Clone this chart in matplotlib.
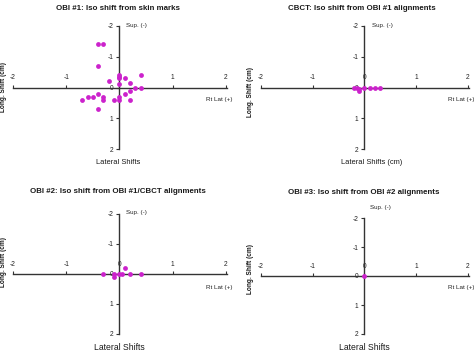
import matplotlib
matplotlib.use("Agg")
import matplotlib.pyplot as plt

W, H = 474, 351
FONT = ['Liberation Sans Narrow', 'Liberation Sans', 'DejaVu Sans']
FONT_R = ['Liberation Sans', 'DejaVu Sans']
plt.rcParams['font.family'] = FONT_R

MAG = '#CC22CC'
AX_COL = '#333333'

titles = ["OBI #1: Iso shift from skin marks",
          "CBCT: Iso shift from OBI #1 alignments",
          "OBI #2: Iso shift from OBI #1/CBCT alignments",
          "OBI #3: Iso shift from OBI #2 alignments"]
xlabels = ["Lateral Shifts", "Lateral Shifts (cm)", "Lateral Shifts", "Lateral Shifts"]
ylabel = "Long. Shift (cm)"
tick_vals = [-2, -1, 0, 1, 2]
tick_labels = ["-2", "-1", "0", "1", "2"]

# panel 1: OBI #1 shifts from skin marks
lat1 = [-0.4, -0.3, -0.4, 0.0, 0.0, 0.0, 0.1, 0.2, -0.2, 0.4, 0.0, 0.3, 0.4,
        0.2, 0.1, -0.4, -0.6, -0.5, -0.3, -0.7, -0.3, -0.1, 0.0, 0.0, 0.2, -0.4]
lng1 = [-1.4, -1.4, -0.7, -0.4, -0.35, -0.3, -0.3, -0.15, -0.2, -0.4, -0.1, 0.0, 0.0,
        0.1, 0.2, 0.2, 0.3, 0.3, 0.3, 0.4, 0.4, 0.4, 0.3, 0.4, 0.4, 0.7]
# panel 2: CBCT
lat2 = [-0.2, -0.15, -0.1, -0.1, 0.0, 0.1, 0.2, 0.3]
lng2 = [0.0, 0.0, 0.05, 0.1, 0.0, 0.0, 0.0, 0.0]
# panel 3: OBI #2
lat3 = [-0.3, -0.1, -0.1, 0.0, 0.05, 0.1, 0.2, 0.4]
lng3 = [0.0, 0.0, 0.1, 0.0, 0.0, -0.2, 0.0, 0.0]
# panel 4: OBI #3
lat4 = [0.0]
lng4 = [0.0]

data = [(lat1, lng1), (lat2, lng2), (lat3, lng3), (lat4, lng4)]

# axes boxes in pixels: (x_left(-2), x_right(2), y_top(-2), y_bottom(2))
boxes = [(13, 227, 26, 149), (261, 469, 26, 149),
         (13, 227, 214, 334), (261, 469, 218, 334)]
title_pos = [(118, 5), (362, 5), (118, 188), (364, 189)]
xlabel_pos = [(118, 163), (372, 163), (119, 347), (364, 347)]
xlabel_size = [5.4, 5.4, 6.2, 6.2]
ylabel_pos = [(4, 87), (250, 92), (4, 262), (250, 269)]
sup_pos = [(126, 25), (372, 25), (126, 213), (370, 208)]
rt_pos = [(232, 100), (474, 100), (232, 287), (474, 287)]

fig = plt.figure(figsize=(W / 100, H / 100), dpi=100)

def fx(px):
    return px / W

def fy(py):
    return 1 - py / H

for i, (xs, ys) in enumerate(data):
    l, r, t, b = boxes[i]
    ax = fig.add_axes([fx(l), fy(b), (r - l) / W, (b - t) / H])
    ax.set_xlim(-2, 2.02)
    ax.set_ylim(2, -2)
    ax.set_facecolor('none')
    for s in ['right', 'bottom']:
        ax.spines[s].set_visible(False)
    ax.spines['left'].set_position(('data', 0))
    ax.spines['top'].set_position(('data', 0))
    for s in ['left', 'top']:
        ax.spines[s].set_color(AX_COL)
        ax.spines[s].set_linewidth(1.0)
    ax.xaxis.set_ticks_position('top')
    ax.yaxis.set_ticks_position('left')
    ax.set_xticks(tick_vals)
    ax.set_xticklabels(tick_labels)
    ax.set_yticks(tick_vals)
    ax.set_yticklabels(tick_labels)
    ax.tick_params(axis='both', length=2, width=0.8, color=AX_COL,
                   labelsize=4.8, labelcolor='#222222', pad=2.5)
    ax.scatter(xs, ys, s=12, color=MAG, zorder=3, linewidths=0, clip_on=False)

    tx, ty = title_pos[i]
    fig.text(fx(tx), fy(ty), titles[i], ha='center', va='top', fontsize=5.7,
             fontweight='bold', family=FONT, color='#1a1a1a')
    lx, ly = xlabel_pos[i]
    fig.text(fx(lx), fy(ly), xlabels[i], ha='center', va='center',
             fontsize=xlabel_size[i], family=FONT_R if i < 2 else FONT, color='#1a1a1a')
    yx, yy = ylabel_pos[i]
    fig.text(fx(yx), fy(yy), ylabel, ha='center', va='center', rotation=90,
             fontsize=4.7, fontweight='bold', family=FONT_R, color='#1a1a1a')
    sx, sy = sup_pos[i]
    fig.text(fx(sx), fy(sy), "Sup. (-)", ha='left', va='center', fontsize=4.5,
             family=FONT_R, color='#222222')
    rx, ry = rt_pos[i]
    fig.text(fx(rx), fy(ry), "Rt Lat (+)", ha='right', va='center', fontsize=4.5,
             family=FONT_R, color='#222222')

fig.savefig("out.png", dpi=100)
